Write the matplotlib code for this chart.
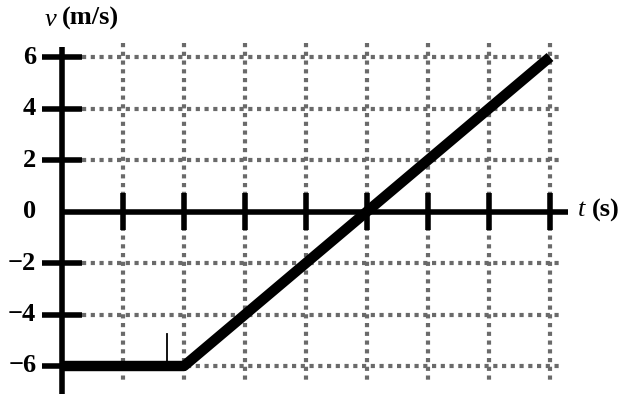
import matplotlib
matplotlib.use("Agg")
from matplotlib import pyplot as plt

# velocity-time data
t_vals = [0, 2, 8]
v_vals = [-6, -6, 6]

t_ticks = [1, 2, 3, 4, 5, 6, 7, 8]
v_ticks = [6, 4, 2, 0, -2, -4, -6]
v_labels = ["6", "4", "2", "0", "\u22122", "\u22124", "\u22126"]

plt.rcParams['font.family'] = ['Liberation Serif', 'DejaVu Serif']

fig = plt.figure(figsize=(6.4, 4.03), dpi=100)
ax = fig.add_axes([0, 0, 1, 1])
ax.set_xlim(-1.016, 9.475)
ax.set_ylim(-7.437, 8.214)
ax.axis("off")

grid_kw = dict(color="#6a6a6a", lw=3, linestyle=(0, (1, 1.1)), zorder=1)

# horizontal grid lines
for v in v_ticks:
    if v != 0:
        ax.plot([0.33, 8.16], [v, v], **grid_kw)

# vertical grid lines
for t in t_ticks:
    ax.plot([t, t], [6.55, -6.7], **grid_kw)

# axes
ax.plot([0, 0], [6.4, -7.1], color="black", lw=4, solid_capstyle="butt", zorder=3)
ax.plot([0, 8.3], [0, 0], color="black", lw=4, solid_capstyle="butt", zorder=3)

# y ticks
for v, lab in zip(v_ticks, v_labels):
    if v != 0:
        ax.plot([-0.33, 0.33], [v, v], color="black", lw=4, solid_capstyle="butt", zorder=3)
    ax.text(-0.42, v, lab, ha="right", va="center", fontsize=19, fontweight="bold")

# x ticks
for t in t_ticks:
    ax.plot([t, t], [0.7, -0.7], color="black", lw=4, solid_capstyle="butt", zorder=3)

# small mark
ax.plot([1.72, 1.72], [-4.75, -6], color="black", lw=1.3, zorder=3)

# data line
ax.plot(t_vals, v_vals, color="black", lw=7.5, solid_capstyle="butt", zorder=4)

# axis labels
ax.text(-0.28, 7.45, "v", ha="left", va="center", fontsize=19, style="italic")
ax.text(0.0, 7.5, "(m/s)", ha="left", va="center", fontsize=19, fontweight="bold")
ax.text(8.45, 0.05, "t", ha="left", va="center", fontsize=19, style="italic")
ax.text(8.68, 0.05, "(s)", ha="left", va="center", fontsize=19, fontweight="bold")

fig.savefig("out.png", dpi=100)
